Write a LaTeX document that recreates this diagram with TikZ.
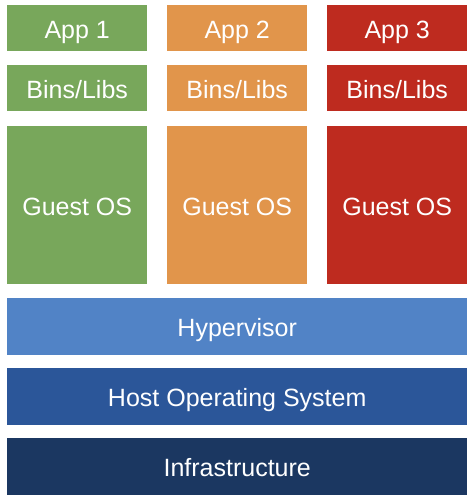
\documentclass[tikz,border=0pt]{standalone}
\usepackage{fontspec}
\setmainfont{Liberation Sans}
\definecolor{verde}{HTML}{78A75B}
\definecolor{naranja}{HTML}{E1954B}
\definecolor{rojo}{HTML}{BE2B1F}
\definecolor{hiper}{HTML}{5183C6}
\definecolor{anfitrion}{HTML}{2B5699}
\definecolor{infra}{HTML}{1B3761}
\begin{document}
\begin{tikzpicture}[x=1pt, y=-1pt,
    caja/.style={anchor=north west, inner sep=0pt, text=white,
        text height=20pt, text depth=0pt,
        font=\fontsize{25}{30}\selectfont},
    columna/.style={caja, minimum width=140pt},
    capa/.style={caja, minimum width=460pt, minimum height=57pt}]
    \useasboundingbox (0,0) rectangle (474,504);

    % Columnas: x de inicio, color, numero
    \foreach \x/\col/\n in {7/verde/1, 167/naranja/2, 327/rojo/3} {
        \node[columna, fill=\col, minimum height=46pt] (app\n) at (\x,5) {App \n};
        \node[columna, fill=\col, minimum height=46pt] (bins\n) at (\x,65) {Bins/Libs};
        \node[columna, fill=\col, minimum height=158pt] (guest\n) at (\x,126) {Guest OS};
    }

    % Capas comunes
    \node[capa, fill=hiper] (hypervisor) at (7,298) {Hypervisor};
    \node[capa, fill=anfitrion] (hostos) at (7,368) {Host Operating System};
    \node[capa, fill=infra] (infra) at (7,438) {Infrastructure};
\end{tikzpicture}
\end{document}
